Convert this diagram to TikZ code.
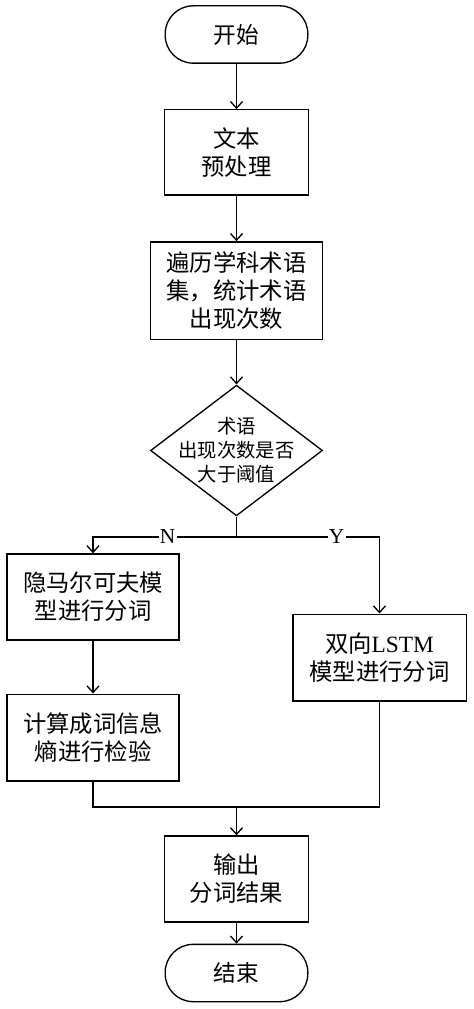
\documentclass[tikz,border=0pt]{standalone}
\usepackage{fontspec}
\setmainfont{Noto Sans CJK SC}
\newfontfamily\latinfont{Liberation Serif}
\usetikzlibrary{arrows.meta, shapes.geometric}

\tikzset{
  flowline/.style={line width=1pt, black},
  flowarrow/.style={flowline, -{Straight Barb[length=5pt,width=9pt]}},
  terminal/.style={draw, line width=1pt, rounded corners=21pt, minimum width=107pt, minimum height=43pt, font=\fontsize{17}{20}\selectfont},
  procbox/.style={draw, line width=1pt, align=center, font=\fontsize{17.5}{21}\selectfont},
  decision/.style={draw, diamond, line width=1pt, inner sep=0pt, minimum width=129pt, minimum height=98pt},
  branchlabel/.style={fill=white, inner sep=1pt, font=\latinfont\fontsize{16}{16}\selectfont}
}

\begin{document}
\begin{tikzpicture}[x=0.75pt, y=-0.75pt]
  \useasboundingbox (0,0) rectangle (474,1009);

  \node[terminal] (start) at (236.5,34.5) {开始};
  \node[procbox, minimum width=108pt, minimum height=64pt] (prep) at (236.5,152.5) {文本\\预处理};
  \node[procbox, minimum width=129pt, minimum height=73pt] (scan) at (236.5,290.5) {遍历学科术语\\集，统计术语\\出现次数};
  \node[decision] (check) at (236.5,450.5) {};
  \node[align=center, font=\fontsize{14.5}{18}\selectfont] (checktext) at (check) {术语\\出现次数是否\\大于阈值};

  \node[procbox, minimum width=129pt, minimum height=64.5pt] (hmm) at (93,597) {隐马尔可夫模\\型进行分词};
  \node[procbox, minimum width=129pt, minimum height=65pt] (entropy) at (93,737.5) {计算成词信息\\熵进行检验};
  \node[procbox, minimum width=130pt, minimum height=65pt] (lstm) at (379.5,657.5) {双向{\latinfont LSTM}\\模型进行分词};

  \node[procbox, minimum width=108pt, minimum height=64.5pt] (output) at (236.5,879) {输出\\分词结果};
  \node[terminal] (end) at (236.5,973) {结束};

  \coordinate (split) at (236.5,537);
  \coordinate (merge) at (236.5,807);

  \draw[flowarrow] (start) -- (prep);
  \draw[flowarrow] (prep) -- (scan);
  \draw[flowarrow] (scan) -- (check);
  \draw[flowline] (check.south) -- (split);
  \draw[flowarrow] (split) -| (hmm.north) node[branchlabel, pos=0.24] (nlabel) {N};
  \draw[flowarrow] (split) -| (lstm.north) node[branchlabel, pos=0.35] (ylabel) {Y};
  \draw[flowarrow] (hmm) -- (entropy);
  \draw[flowline] (entropy.south) |- (merge) -| (lstm.south);
  \draw[flowarrow] (merge) -- (output);
  \draw[flowarrow] (output) -- (end);
\end{tikzpicture}
\end{document}
